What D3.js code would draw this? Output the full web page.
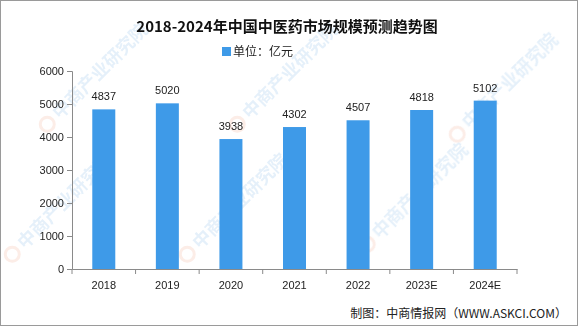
<!DOCTYPE html>
<html>
<head>
<meta charset="utf-8">
<script src="https://cdn.jsdelivr.net/npm/d3@7"></script>
<style>
  html, body { margin: 0; padding: 0; background: #fff; }
  svg { display: block; }
</style>
</head>
<body>
<svg id="chart" width="585" height="327"></svg>
<script>
// Market size of Chinese traditional medicine, 100 million yuan
const years = ["2018", "2019", "2020", "2021", "2022", "2023E", "2024E"];
const values = [4837, 5020, 3938, 4302, 4507, 4818, 5102];
const yTicks = [0, 1000, 2000, 3000, 4000, 5000, 6000];

const svg = d3.select("#chart");
const W = 585, H = 327;
const margin = { left: 72, right: 68, top: 71, bottom: 58 };

// frame
svg.append("rect")
  .attr("x", 0.5).attr("y", 0.5)
  .attr("width", 577).attr("height", 325)
  .attr("fill", "#fff").attr("stroke", "#9a9a9a");

// faint diagonal watermarks, kept inside the frame
const wm = svg.append("g").attr("opacity", 0.13);
const wmPos = [[25, 250], [200, 250], [380, 240], [470, 130], [250, 120], [60, 120]];
wmPos.forEach(([x, y]) => {
  const g = wm.append("g").attr("transform", `translate(${x},${y}) rotate(-45)`);
  g.append("circle").attr("cx", -12).attr("cy", -6).attr("r", 7)
    .attr("fill", "none").attr("stroke", "#e8734a").attr("stroke-width", 3);
  g.append("text").attr("x", 0).attr("y", 0)
    .attr("font-family", "Noto Sans CJK SC").attr("font-size", 18).attr("font-weight", "bold")
    .attr("fill", "#3a8fd8").text("中商产业研究院");
});

const x = d3.scaleBand().domain(years).range([margin.left, W - margin.right]).paddingInner(0).paddingOuter(0);
const y = d3.scaleLinear().domain([0, 6000]).range([H - margin.bottom, margin.top]);

// title
svg.append("text")
  .attr("x", 287).attr("y", 32)
  .attr("text-anchor", "middle")
  .attr("font-family", "Noto Sans CJK SC")
  .attr("font-weight", "bold").attr("font-size", 15)
  .attr("fill", "#111")
  .text("2018-2024年中国中医药市场规模预测趋势图");

// legend
svg.append("rect").attr("x", 222).attr("y", 47).attr("width", 9).attr("height", 9).attr("fill", "#3e9ae8");
svg.append("text")
  .attr("x", 233).attr("y", 56)
  .attr("font-family", "Noto Sans CJK SC").attr("font-size", 12).attr("fill", "#222")
  .text("单位：亿元");

// y axis
const yAxis = svg.append("g")
  .attr("transform", `translate(${margin.left},0)`)
  .call(d3.axisLeft(y).tickValues(yTicks).tickSize(5).tickPadding(3).tickFormat(d3.format("d")));
yAxis.select(".domain").attr("stroke", "#8a8a8a");
yAxis.selectAll(".tick line").attr("stroke", "#8a8a8a");
yAxis.selectAll("text").attr("font-family", "Liberation Sans").attr("font-size", 11).attr("fill", "#222");

// bars
const barW = 23;
svg.append("g").selectAll("rect")
  .data(values)
  .join("rect")
  .attr("x", (d, i) => x(years[i]) + x.bandwidth() / 2 - barW / 2)
  .attr("y", d => y(d))
  .attr("width", barW)
  .attr("height", d => y(0) - y(d))
  .attr("fill", "#3e9ae8");

// value labels
svg.append("g").selectAll("text")
  .data(values)
  .join("text")
  .attr("x", (d, i) => x(years[i]) + x.bandwidth() / 2)
  .attr("y", d => y(d) - 9)
  .attr("text-anchor", "middle")
  .attr("font-family", "Liberation Sans").attr("font-size", 11).attr("fill", "#222")
  .text(d => d);

// x axis
const xAxis = svg.append("g")
  .attr("transform", `translate(0,${y(0)})`)
  .call(d3.axisBottom(x).tickSize(0).tickPadding(12));
xAxis.select(".domain").attr("stroke", "#8a8a8a");
xAxis.selectAll("text").attr("font-family", "Liberation Sans").attr("font-size", 11).attr("fill", "#222");
// boundary ticks between categories
const bounds = years.map(d => x(d)).concat([x(years[years.length - 1]) + x.bandwidth()]);
xAxis.selectAll(".bound").data(bounds).join("line")
  .attr("class", "bound")
  .attr("x1", d => d).attr("x2", d => d)
  .attr("y1", 0).attr("y2", 5)
  .attr("stroke", "#8a8a8a");

// source note
svg.append("text")
  .attr("x", 567).attr("y", 318)
  .attr("text-anchor", "end")
  .attr("font-family", "Noto Sans CJK SC").attr("font-size", 12).attr("fill", "#222")
  .text("制图：中商情报网（WWW.ASKCI.COM）");
</script>
</body>
</html>
